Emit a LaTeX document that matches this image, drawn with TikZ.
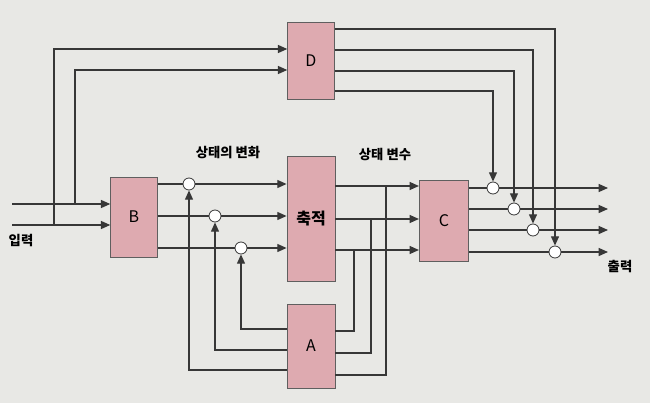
\documentclass[tikz,border=0pt]{standalone}
\usepackage{fontspec}
\setmainfont{Noto Sans CJK KR}
\usetikzlibrary{arrows.meta,positioning,calc}
\definecolor{blockpink}{RGB}{222,170,176}
\definecolor{paper}{RGB}{232,232,229}
\definecolor{wire}{RGB}{55,55,55}
\tikzset{
  blk/.style={draw=wire!80,fill=blockpink,line width=0.6pt,inner sep=0pt,font=\large},
  sumpt/.style={circle,draw=wire,fill=white,inner sep=0pt,minimum size=9pt,line width=0.6pt},
  wr/.style={draw=wire,line width=1pt},
  ar/.style={wr,-{Triangle[length=7pt,width=6pt]}},
  lbl/.style={font=\bfseries}
}
\begin{document}
\begin{tikzpicture}[x=0.75pt,y=-0.75pt]
      \fill[paper] (0,0) rectangle (650,403);
      \useasboundingbox (0,0) rectangle (650,403);
      % blocks
      \node[blk,minimum width=35pt,minimum height=58pt] (D) at (311,61) {D};
      \node[blk,minimum width=35pt,minimum height=60pt] (B) at (134,217) {B};
      \node[blk,minimum width=36pt,minimum height=94pt] (acc) at (311,219) {\bfseries 축적};
      \node[blk,minimum width=36pt,minimum height=63pt] (A) at (311,346) {A};
      \node[blk,minimum width=37pt,minimum height=61pt] (C) at (444,221) {C};
      % labels
      \node[lbl] (chg) at (228,153) {상태의 변화};
      \node[lbl] (var) at (385,155) {상태 변수};
      \node[lbl] (in) at (21,241) {입력};
      \node[lbl] (out) at (620,267) {출력};
      % inputs
      \coordinate (i1) at (12,204);
      \coordinate (i2) at (12,225);
      \draw[ar] (i1) -- (i1 -| B.west);
      \draw[ar] (i2) -- (i2 -| B.west);
      \draw[ar] (75,204) |- (D.west |- 0,70);
      \draw[ar] (54,225) |- (D.west |- 0,49);
      % B -> sums -> acc
      \foreach \y/\sx/\n in {184/189/1,216/215/2,248/241/3}{
        \node[sumpt] (s\n) at (\sx,\y) {};
        \draw[wr] (B.east |- s\n) -- (s\n);
        \draw[ar] (s\n) -- (acc.west |- s\n);
      }
      % acc -> C, taps to A
      \foreach \y/\tx/\ay/\n in {186/386/375/1,219/371/353/2,250/354/331/3}{
        \coordinate (t\n) at (\tx,\y);
        \draw[ar] (acc.east |- t\n) -- (C.west |- t\n);
        \draw[wr] (t\n) |- (A.east |- 0,\ay);
      }
      % A -> sums
      \draw[ar] (A.west |- 0,370) -| (s1);
      \draw[ar] (A.west |- 0,350) -| (s2);
      \draw[ar] (A.west |- 0,329) -| (s3);
      % C -> outputs, D feedthrough
      \foreach \y/\dy/\sx/\n in {188/91/493/1,209/71/514/2,230/50/533/3,252/29/555/4}{
        \node[sumpt] (o\n) at (\sx,\y) {};
        \coordinate (e\n) at (608,\y);
        \draw[wr] (C.east |- o\n) -- (o\n);
        \draw[ar] (o\n) -- (e\n);
        \draw[ar] (D.east |- 0,\dy) -| (o\n);
      }
\end{tikzpicture}
\end{document}
